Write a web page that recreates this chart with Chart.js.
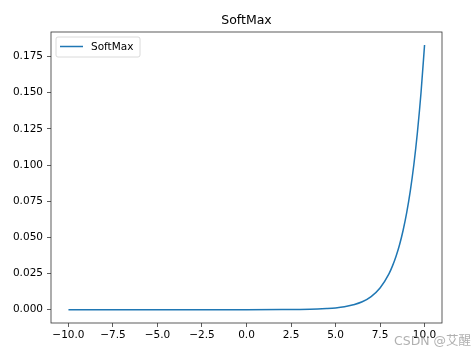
<!DOCTYPE html>
<html lang="zh-CN">
<head>
    <meta charset="UTF-8">
    <title>SoftMax</title>
    <script src="https://cdn.jsdelivr.net/npm/chart.js"></script>
    <style>
        body {
            margin: 0;
            background: #fff;
            font-family: "DejaVu Sans", sans-serif;
        }
        .wrap {
            position: relative;
            width: 474px;
            height: 351px;
        }
        .mark {
            position: absolute;
            left: 394px;
            top: 330px;
            font-size: 12.5px;
            color: rgba(150, 150, 150, 0.75);
            font-family: "DejaVu Sans", "Noto Sans CJK SC", sans-serif;
            white-space: nowrap;
        }
    </style>
</head>
<body>
    <div class="wrap">
        <canvas id="softmaxChart" width="474" height="351"></canvas>
        <div class="mark">CSDN @艾醒</div>
    </div>

    <script>
        // 点
        const xValues = [-10, -7.5, -5, -2.5, 0, 2, 3, 4, 4.5, 5, 5.5, 6, 6.5, 7, 7.5,
            8, 8.2, 8.4, 8.6, 8.8, 9, 9.2, 9.4, 9.6, 9.8, 10];
        const softmaxValues = [0, 0, 0.000001, 0.000003, 0.00001, 0.00006, 0.00017, 0.00045, 0.00075,
            0.0012, 0.0020, 0.0034, 0.0055, 0.0091, 0.0150,
            0.0248, 0.0303, 0.0370, 0.0451, 0.0551, 0.0673, 0.0822, 0.1004, 0.1227, 0.1498, 0.183];
        const xTicks = [-10, -7.5, -5, -2.5, 0, 2.5, 5, 7.5, 10];
        const yTicks = [0, 0.025, 0.05, 0.075, 0.1, 0.125, 0.15, 0.175];

        const lineColor = '#1f77b4';
        const axisColor = '#333';
        const font = { family: 'DejaVu Sans', size: 10.5 };

        function fmt(v, d) {
            return v.toFixed(d).replace('-', '\u2212');
        }

        const framePlugin = {
            id: 'frame',
            afterDraw(chart) {
                const { ctx, chartArea: a } = chart;
                ctx.save();
                ctx.strokeStyle = axisColor;
                ctx.lineWidth = 0.8;
                ctx.strokeRect(a.left, a.top, a.right - a.left, a.bottom - a.top);

                // 标题
                ctx.fillStyle = '#000';
                ctx.font = '12.5px "DejaVu Sans"';
                ctx.textAlign = 'center';
                ctx.textBaseline = 'middle';
                ctx.fillText('SoftMax', (a.left + a.right) / 2, 20.5);

                // 图例
                const bx = a.left + 5, by = a.top + 5, bw = 84, bh = 20, r = 2;
                ctx.beginPath();
                ctx.roundRect(bx, by, bw, bh, r);
                ctx.fillStyle = 'rgba(255,255,255,0.8)';
                ctx.fill();
                ctx.strokeStyle = '#d0d0d0';
                ctx.lineWidth = 0.8;
                ctx.stroke();
                ctx.beginPath();
                ctx.moveTo(bx + 4, by + 9.5);
                ctx.lineTo(bx + 27, by + 9.5);
                ctx.strokeStyle = lineColor;
                ctx.lineWidth = 1.5;
                ctx.stroke();
                ctx.fillStyle = '#000';
                ctx.font = '10.5px "DejaVu Sans"';
                ctx.textAlign = 'left';
                ctx.fillText('SoftMax', bx + 35, by + 10);
                ctx.restore();
            }
        };

        new Chart(document.getElementById('softmaxChart'), {
            type: 'line',
            data: {
                datasets: [{
                    label: 'SoftMax',
                    data: xValues.map((x, i) => ({ x: x, y: softmaxValues[i] })),
                    borderColor: lineColor,
                    borderWidth: 1.5,
                    pointRadius: 0,
                    cubicInterpolationMode: 'monotone',
                    fill: false
                }]
            },
            options: {
                responsive: false,
                animation: false,
                layout: { padding: { top: 32, right: 32, left: 0, bottom: 0 } },
                plugins: {
                    legend: { display: false },
                    title: { display: false },
                    tooltip: { enabled: false }
                },
                scales: {
                    x: {
                        type: 'linear',
                        min: -10.98,
                        max: 10.98,
                        afterBuildTicks: s => { s.ticks = xTicks.map(v => ({ value: v })); },
                        afterFit: s => { s.height = 28; },
                        border: { display: false },
                        grid: { drawOnChartArea: false, drawTicks: true, tickLength: 4, color: axisColor, tickWidth: 0.8 },
                        ticks: { color: '#000', font: font, padding: 2, maxRotation: 0, callback: v => fmt(v, 1) }
                    },
                    y: {
                        min: -0.0092,
                        max: 0.192,
                        afterBuildTicks: s => { s.ticks = yTicks.map(v => ({ value: v })); },
                        afterFit: s => { s.width = 51; },
                        border: { display: false },
                        grid: { drawOnChartArea: false, drawTicks: true, tickLength: 4, color: axisColor, tickWidth: 0.8 },
                        ticks: { color: '#000', font: font, padding: 4, callback: v => fmt(v, 3) }
                    }
                }
            },
            plugins: [framePlugin]
        });
    </script>
</body>
</html>
